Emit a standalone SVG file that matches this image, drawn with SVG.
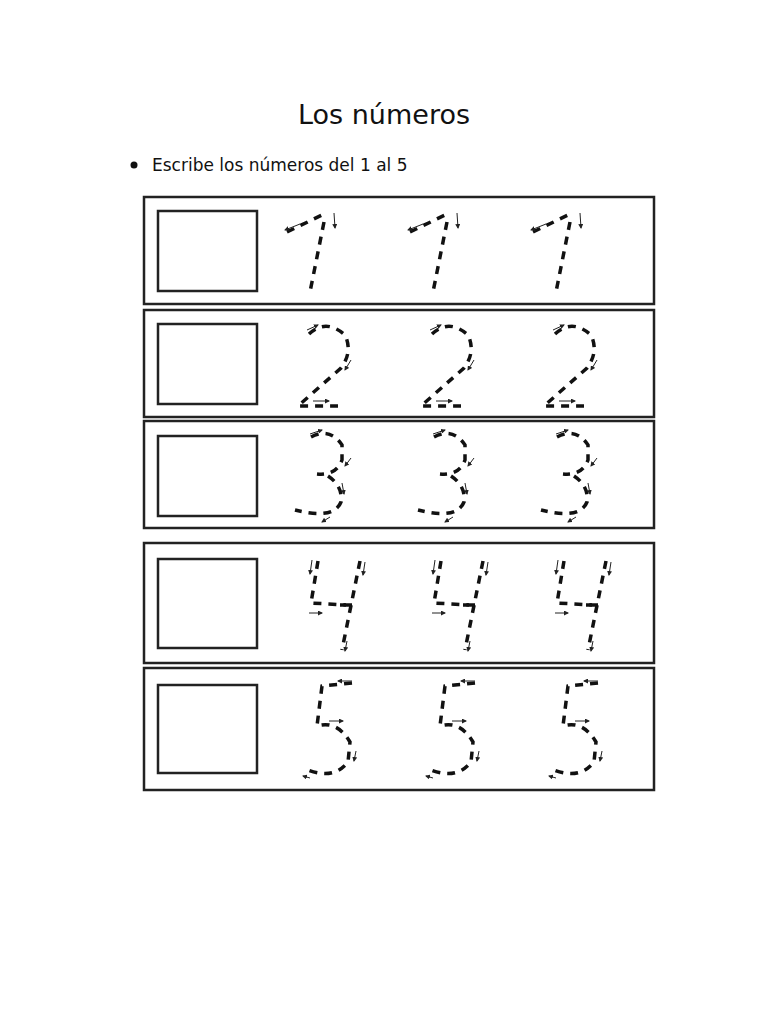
<svg xmlns="http://www.w3.org/2000/svg" xmlns:xlink="http://www.w3.org/1999/xlink" width="768" height="1024" viewBox="0 0 768 1024">
<style>
.t{font-family:"Comic Sans MS","DejaVu Sans",sans-serif;fill:#111}
.row{fill:#fff;stroke:#222;stroke-width:2.5}
.box{fill:#fff;stroke:#222;stroke-width:2.5}
.d{fill:none;stroke:#111;stroke-width:3.5;stroke-dasharray:8 7}
.a{fill:none;stroke:#222;stroke-width:1;marker-end:url(#ah)}
</style>
<defs>
<marker id="ah" markerWidth="5" markerHeight="5" refX="4" refY="2.5" orient="auto"><path d="M0,0L5,2.5L0,5z" fill="#222"/></marker>
<g id="n1"><path class="d" d="M287,232 L322,215 M324,222 L310,292"/><path class="a" d="M300,224 L285,230"/><path class="a" d="M334,213 L335,228"/></g>
<g id="n2"><path class="d" d="M309,334 Q326,318 345,335 Q353,352 341,368 L298,406 L338,406"/><path class="a" d="M307,330 L318,325"/><path class="a" d="M351,360 L345,370"/><path class="a" d="M313,401 L329,401"/></g>
<g id="n3"><path class="d" d="M311,437 Q330,427 342,445 L342,460 Q336,476 317,474 M328,476 Q343,486 341,502 Q334,520 295,510"/><path class="a" d="M310,434 L322,430"/><path class="a" d="M351,458 L345,466"/><path class="a" d="M342,483 L344,494"/><path class="a" d="M330,517 L322,522"/></g>
<g id="n4"><path class="d" d="M318,561 L311,603 L346,605 M360,561 L342,650"/><path class="a" d="M312,560 L310,574"/><path class="a" d="M365,562 L363,575"/><path class="a" d="M309,613 L322,613"/><path class="a" d="M347,641 L345,651"/><path class="d" d="M340,605 L352,605" style="stroke-dasharray:none"/></g>
<g id="n5"><path class="d" d="M352,683 L322,686 L317,726 Q337,720 350,742 L348,762 Q334,780 308,770"/><path class="a" d="M352,681 L338,681"/><path class="a" d="M329,721 L343,721"/><path class="a" d="M356,751 L354,761"/><path class="a" d="M310,778 L303,776"/></g>
</defs>
<rect width="768" height="1024" fill="#fff"/>
<text class="t" x="384" y="124" font-size="27" text-anchor="middle">Los números</text>
<circle cx="134" cy="165" r="3.5" fill="#111"/>
<text class="t" x="152" y="171" font-size="17">Escribe los números del 1 al 5</text>
<g id="row1"><rect class="row" x="144" y="197" width="510" height="107"/><rect class="box" x="158" y="211" width="99" height="80"/><use href="#n1"/><use href="#n1" x="123"/><use href="#n1" x="246"/></g>
<g id="row2"><rect class="row" x="144" y="310" width="510" height="107"/><rect class="box" x="158" y="324" width="99" height="80"/><use href="#n2"/><use href="#n2" x="123"/><use href="#n2" x="246"/></g>
<g id="row3"><rect class="row" x="144" y="421" width="510" height="107"/><rect class="box" x="158" y="436" width="99" height="80"/><use href="#n3"/><use href="#n3" x="123"/><use href="#n3" x="246"/></g>
<g id="row4"><rect class="row" x="144" y="543" width="510" height="120"/><rect class="box" x="158" y="559" width="99" height="89"/><use href="#n4"/><use href="#n4" x="123"/><use href="#n4" x="246"/></g>
<g id="row5"><rect class="row" x="144" y="668" width="510" height="122"/><rect class="box" x="158" y="685" width="99" height="88"/><use href="#n5"/><use href="#n5" x="123"/><use href="#n5" x="246"/></g>
</svg>
